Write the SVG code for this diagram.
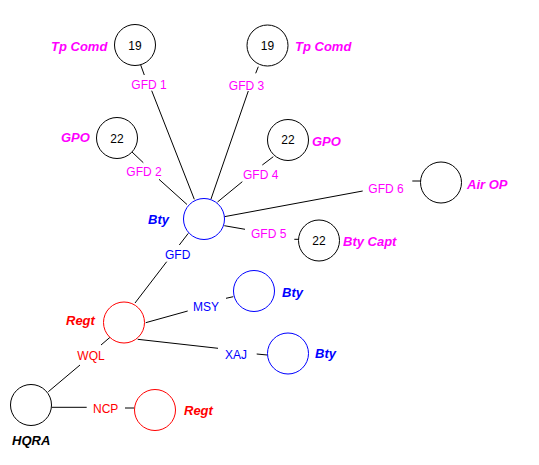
<svg xmlns="http://www.w3.org/2000/svg" width="539" height="465" viewBox="0 0 539 465">
<style>
.n{fill:#fff;stroke-width:1}
.k{stroke:#000}.b{stroke:#0000ff}.r{stroke:#ff0000}
.e line{stroke:#000;stroke-width:1}
.t{font-family:"Liberation Sans",Arial,sans-serif;font-size:12px;text-anchor:middle}
.l{font-family:"Liberation Sans",Arial,sans-serif;font-size:13px;font-weight:bold;font-style:italic}
.m{fill:#ff00ff}.bl{fill:#0000ff}.rd{fill:#ff0000}.bk{fill:#000}
</style>
<rect width="539" height="465" fill="#fff"/>
<g id="connectors" class="e">
<line x1="140.7" y1="65" x2="144.3" y2="75"/><line x1="151.7" y1="90.7" x2="194.3" y2="199.3"/>
<line x1="258.3" y1="66.7" x2="255.7" y2="73.3"/><line x1="248.3" y1="91" x2="211" y2="199"/>
<line x1="273.3" y1="156.7" x2="262.3" y2="165"/><line x1="242.3" y1="181.7" x2="217.5" y2="202"/>
<line x1="131.7" y1="151.7" x2="143.3" y2="162.7"/><line x1="159" y1="179.3" x2="187" y2="204.5"/>
<line x1="224.3" y1="216.7" x2="362.7" y2="191"/><line x1="412.3" y1="181" x2="421" y2="181"/>
<line x1="224.3" y1="225.7" x2="245" y2="229.3"/><line x1="294.3" y1="239.3" x2="299.3" y2="239.3"/>
<line x1="188.3" y1="233.3" x2="179.3" y2="245"/><line x1="166.7" y1="261.7" x2="135" y2="303"/>
<line x1="145.7" y1="322.7" x2="187.7" y2="311"/><line x1="226" y1="298.3" x2="233.3" y2="296.7"/>
<line x1="137.7" y1="339.3" x2="218" y2="348.3"/><line x1="256.7" y1="354" x2="267.3" y2="355"/>
<line x1="110" y1="337.3" x2="101" y2="345"/><line x1="80" y1="365" x2="48.3" y2="391.7"/>
<line x1="51.7" y1="407.3" x2="86.7" y2="407.3"/><line x1="125" y1="408" x2="134.3" y2="408"/>
<text class="t m" x="149" y="89">GFD 1</text>
<text class="t m" x="246.5" y="90">GFD 3</text>
<text class="t m" x="144" y="176">GFD 2</text>
<text class="t m" x="260.7" y="179">GFD 4</text>
<text class="t m" x="386" y="192.5">GFD 6</text>
<text class="t m" x="268.7" y="237.5">GFD 5</text>
<text class="t bl" x="177.7" y="259">GFD</text>
<text class="t bl" x="206" y="311">MSY</text>
<text class="t bl" x="236" y="359">XAJ</text>
<text class="t rd" x="91" y="360">WQL</text>
<text class="t rd" x="105.7" y="412.5">NCP</text>
</g>
<g id="tpcomd1"><circle class="n k" cx="135" cy="45" r="20.5"/><text class="t bk" x="135" y="49.5">19</text><text class="l m" x="51" y="50.5">Tp Comd</text></g>
<g id="tpcomd2"><circle class="n k" cx="267.5" cy="45.5" r="20.5"/><text class="t bk" x="267.5" y="50">19</text><text class="l m" x="295" y="51">Tp Comd</text></g>
<g id="gpo1"><circle class="n k" cx="117" cy="138" r="20.5"/><text class="t bk" x="117" y="142.5">22</text><text class="l m" x="61" y="142">GPO</text></g>
<g id="gpo2"><circle class="n k" cx="288" cy="140" r="20.5"/><text class="t bk" x="288" y="144">22</text><text class="l m" x="312" y="145.5">GPO</text></g>
<g id="bty"><circle class="n b" cx="204" cy="219" r="20.5"/><text class="l bl" x="148" y="223.5">Bty</text></g>
<g id="btycapt"><circle class="n k" cx="319" cy="240.5" r="20.5"/><text class="t bk" x="319" y="245">22</text><text class="l m" x="343" y="245.5">Bty Capt</text></g>
<g id="airop"><circle class="n k" cx="441" cy="182.5" r="20.5"/><text class="l m" x="467" y="188.5">Air OP</text></g>
<g id="regt1"><circle class="n r" cx="124" cy="322.5" r="20.5"/><text class="l rd" x="66" y="325">Regt</text></g>
<g id="bty2"><circle class="n b" cx="254" cy="291" r="20.5"/><text class="l bl" x="282" y="296.5">Bty</text></g>
<g id="bty3"><circle class="n b" cx="288" cy="353.5" r="20.5"/><text class="l bl" x="315" y="357.5">Bty</text></g>
<g id="hqra"><circle class="n k" cx="31" cy="405" r="20.5"/><text class="l bk" x="12" y="445">HQRA</text></g>
<g id="regt2"><circle class="n r" cx="155" cy="410" r="20.5"/><text class="l rd" x="184" y="415">Regt</text></g>
</svg>
